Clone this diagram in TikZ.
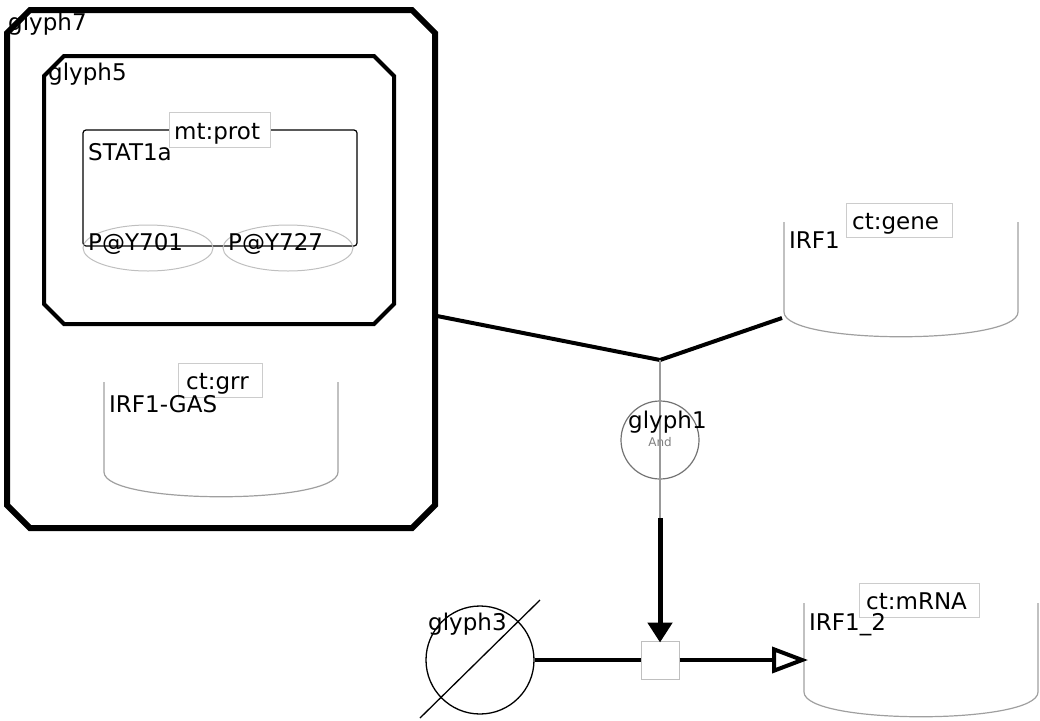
\documentclass[tikz,border=0pt]{standalone}
\usepackage{fontspec}
\setmainfont{DejaVu Sans}
\usetikzlibrary{arrows.meta}
\begin{document}
\begin{tikzpicture}[x=1pt,y=-1pt,
 lab/.style={font=\fontsize{23}{23}\selectfont,inner sep=0pt,anchor=north west},
 lbox/.style={draw=gray!40,fill=white,line width=1pt,minimum width=0pt},
 na/.style={draw=gray!75,line width=1.2pt}]
\useasboundingbox (0,0) rectangle (1040,720);
% glyph7
\draw[line width=6pt] (30,10) -- (412,10) -- (435,33) -- (435,505) -- (412,528) -- (30,528) -- (7,505) -- (7,33) -- cycle;
\node[lab] (g7) at (8,13) {glyph7};
% glyph5
\draw[line width=4pt] (64,56) -- (374,56) -- (394,76) -- (394,304) -- (374,324) -- (64,324) -- (44,304) -- (44,76) -- cycle;
\node[lab] (g5) at (48,63) {glyph5};
% STAT1a
\draw[line width=1.2pt,rounded corners=3pt] (83,130) rectangle (357,246);
\node[lbox,minimum height=35pt,minimum width=101pt] (mtp) at (219.5,130) {};
\node[lab] (st) at (88,143) {STAT1a};
\node[lab] (mtpl) at (174,123) {mt:prot};
\draw[draw=gray!50,line width=1pt] (148,248) ellipse (65 and 23);
\draw[draw=gray!50,line width=1pt] (288,248) ellipse (65 and 23);
\node[lab] (p1) at (88,233) {P@Y701};
\node[lab] (p2) at (228,233) {P@Y727};
% IRF1-GAS
\draw[na] (104,382) -- (104,472) .. controls (104,505) and (338,505) .. (338,472) -- (338,382);
\node[lbox,minimum height=34pt,minimum width=84pt] (grr) at (220,380) {};
\node[lab] (gasl) at (186,373) {ct:grr};
\node[lab] (gas) at (109,395) {IRF1-GAS};
% IRF1 gene
\draw[na] (784,222) -- (784,312) .. controls (784,345) and (1018,345) .. (1018,312) -- (1018,222);
\node[lbox,minimum height=34pt,minimum width=106pt] (gl) at (899,220) {};
\node[lab] (gll) at (852,213) {ct:gene};
\node[lab] (irf1) at (789,232) {IRF1};
% IRF1_2 mRNA
\draw[na] (804,603) -- (804,692) .. controls (804,725) and (1038,725) .. (1038,692) -- (1038,603);
\node[lbox,minimum height=34pt,minimum width=120pt] (ml) at (919,600) {};
\node[lab] (mll) at (866,593) {ct:mRNA};
\coordinate (m) at (808,660);
\node[lab] (irf12) at (809,613) {IRF1\_2};
% and node
\coordinate (j) at (660,360);
\coordinate (g7r) at (437,316);
\coordinate (gr) at (782,318);
\node[draw=gray!90!black,circle,minimum size=78pt,line width=1.2pt,inner sep=0pt] (and) at (660,440) {};
\node[font=\fontsize{12}{12}\selectfont,text=gray] at (660,442) {And};
\draw[line width=4pt] (g7r) -- (j) -- (gr);
\draw[draw=gray!80,line width=1.2pt] (j) -- (660,518);
\node[lab] (g1) at (628,411) {glyph1};
\coordinate (a) at (660,518);
% process
\node[draw=gray!50,fill=white,minimum size=38pt,inner sep=0pt,line width=1pt] (pr) at (660,660) {};
\draw[line width=5pt,-{Triangle[length=20pt,width=24pt]}] (a) -- ([yshift=-2pt]pr.north);
% source sink
\node[draw,circle,minimum size=108pt,line width=1.3pt,inner sep=0pt] (ss) at (480,660) {};
\draw[line width=1.3pt] (420,718) -- (540,600);
\node[lab] (g3) at (428,613) {glyph3};
\draw[line width=4pt] (ss) -- (pr);
\draw[line width=4pt,-{Triangle[open,length=36pt,width=26pt,line width=4pt]}] (pr) -- (m);
\end{tikzpicture}
\end{document}
